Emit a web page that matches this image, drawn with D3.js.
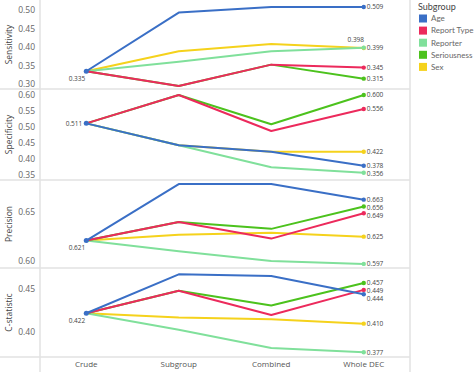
<!DOCTYPE html>
<html>
<head>
<meta charset="utf-8">
<script src="https://cdn.jsdelivr.net/npm/d3@7"></script>
<style>
  body { margin: 0; background: #fff; }
  svg { display: block; font-family: "Open Sans", sans-serif; }
  .sep { stroke: #e2e2e2; stroke-width: 1.5; }
  .tick-label { fill: #666; font-size: 8.5px; }
  .axis-title { fill: #444; font-size: 8.5px; }
  .val { fill: #444; font-size: 6.5px; }
  .stage { fill: #555; font-size: 8px; }
  .legend text { font-family: Lato, sans-serif; }
</style>
</head>
<body>
<div id="chart"></div>
<script>
const stages = ["Crude", "Subgroup", "Combined", "Whole DEC"];
const subgroups = ["Age", "Report Type", "Reporter", "Seriousness", "Sex"];
const colors = ["#3a6fc6", "#ec2a5c", "#80e09b", "#4cc21d", "#f5d21c"];

// values per subgroup, in the order of `subgroups`
const sensitivity = [
  [0.335, 0.494, 0.509, 0.509],
  [0.335, 0.295, 0.353, 0.345],
  [0.335, 0.361, 0.389, 0.399],
  [0.335, 0.295, 0.353, 0.315],
  [0.335, 0.389, 0.409, 0.398]
];
const specificity = [
  [0.511, 0.442, 0.422, 0.378],
  [0.511, 0.600, 0.487, 0.556],
  [0.511, 0.442, 0.373, 0.356],
  [0.511, 0.600, 0.508, 0.600],
  [0.511, 0.442, 0.422, 0.422]
];
const precision = [
  [0.621, 0.679, 0.679, 0.663],
  [0.621, 0.640, 0.623, 0.649],
  [0.621, 0.610, 0.600, 0.597],
  [0.621, 0.640, 0.633, 0.656],
  [0.621, 0.627, 0.629, 0.625]
];
const cstatistic = [
  [0.422, 0.467, 0.465, 0.444],
  [0.422, 0.448, 0.420, 0.449],
  [0.422, 0.403, 0.382, 0.377],
  [0.422, 0.448, 0.431, 0.457],
  [0.422, 0.417, 0.415, 0.410]
];

const metrics = ["Sensitivity", "Specificity", "Precision", "C-statistic"];
const metricValues = [sensitivity, specificity, precision, cstatistic];
const metricDomains = [[0.287, 0.528], [0.333, 0.619], [0.5928, 0.6832], [0.3715, 0.4743]];
const metricTicks = [
  [0.30, 0.35, 0.40, 0.45, 0.50],
  [0.35, 0.40, 0.45, 0.50, 0.55, 0.60],
  [0.60, 0.65],
  [0.40, 0.45]
];

const width = 474, height = 372;
const plotLeft = 40, plotRight = 410;
const panelEdges = [0, 89, 180, 268, 357];
// draw order: Age on top
const drawOrder = [4, 2, 3, 1, 0];

const svg = d3.select("#chart").append("svg")
  .attr("width", width)
  .attr("height", height);

const x = d3.scalePoint()
  .domain(stages)
  .range([plotLeft, plotRight])
  .padding(0.5);

// frame lines
svg.append("line").attr("class", "sep")
  .attr("x1", plotLeft).attr("x2", plotLeft).attr("y1", 0).attr("y2", height);
svg.append("line").attr("class", "sep")
  .attr("x1", plotRight).attr("x2", plotRight).attr("y1", 0).attr("y2", height);
panelEdges.slice(1).forEach(yy => {
  svg.append("line").attr("class", "sep")
    .attr("x1", 0).attr("x2", plotRight).attr("y1", yy).attr("y2", yy);
});

metrics.forEach((name, i) => {
  const top = panelEdges[i], bottom = panelEdges[i + 1];
  const y = d3.scaleLinear().domain(metricDomains[i]).range([bottom, top]);
  const g = svg.append("g");

  // y ticks
  g.selectAll(".tick-label")
    .data(metricTicks[i])
    .enter().append("text")
    .attr("class", "tick-label")
    .attr("x", plotLeft - 5)
    .attr("y", d => y(d))
    .attr("dy", "0.35em")
    .attr("text-anchor", "end")
    .text(d => d3.format(".2f")(d));

  // axis title
  g.append("text")
    .attr("class", "axis-title")
    .attr("transform", `translate(12,${(top + bottom) / 2}) rotate(-90)`)
    .attr("text-anchor", "middle")
    .text(name);

  const line = d3.line()
    .x((d, j) => x(stages[j]))
    .y(d => y(d));

  const vals = metricValues[i];

  drawOrder.forEach(k => {
    g.append("path")
      .attr("d", line(vals[k]))
      .attr("fill", "none")
      .attr("stroke", colors[k])
      .attr("stroke-width", 2)
      .attr("stroke-linejoin", "round");
  });

  // end points
  drawOrder.forEach(k => {
    g.append("circle")
      .attr("cx", x(stages[3]))
      .attr("cy", y(vals[k][3]))
      .attr("r", 2.2)
      .attr("fill", colors[k]);
  });
  g.append("circle")
    .attr("cx", x(stages[0]))
    .attr("cy", y(vals[0][0]))
    .attr("r", 2.5)
    .attr("fill", colors[0]);

  // start label (below-left, except specificity which sits to the left)
  const startY = y(vals[0][0]);
  g.append("text")
    .attr("class", "val")
    .attr("x", x(stages[0]) - (i === 1 ? 4 : 1))
    .attr("y", i === 1 ? startY : startY + 7)
    .attr("dy", "0.35em")
    .attr("text-anchor", "end")
    .text(d3.format(".3f")(vals[0][0]));

  // end labels, nudged apart where they would collide
  const labels = subgroups.map((s, k) => ({ k, v: vals[k][3], ly: y(vals[k][3]) }))
    .filter(d => !(i === 0 && d.k === 4));
  labels.sort((a, b) => a.ly - b.ly);
  for (let j = 1; j < labels.length; j++) {
    if (labels[j].ly - labels[j - 1].ly < 8) labels[j].ly = labels[j - 1].ly + 8;
  }
  labels.forEach(d => {
    g.append("text")
      .attr("class", "val")
      .attr("x", x(stages[3]) + 3)
      .attr("y", d.ly)
      .attr("dy", "0.35em")
      .text(d3.format(".3f")(d.v));
  });
  if (i === 0) {
    const v = vals[4][3];
    g.append("text")
      .attr("class", "val")
      .attr("x", x(stages[3]) - 8)
      .attr("y", y(v) - 8)
      .attr("dy", "0.35em")
      .attr("text-anchor", "middle")
      .text(d3.format(".3f")(v));
  }
});

// stage labels
svg.selectAll(".stage")
  .data(stages)
  .enter().append("text")
  .attr("class", "stage")
  .attr("x", d => x(d))
  .attr("y", 367)
  .attr("text-anchor", "middle")
  .text(d => d);

// legend
const legend = svg.append("g").attr("class", "legend").attr("transform", "translate(418,0)");
legend.append("text")
  .attr("x", 0).attr("y", 10)
  .attr("fill", "#444")
  .style("font-size", "9px")
  .text("Subgroup");
const item = legend.selectAll(".item")
  .data(subgroups)
  .enter().append("g")
  .attr("transform", (d, j) => `translate(0,${18.5 + j * 12.1})`);
item.append("rect")
  .attr("x", 1).attr("y", -4).attr("width", 8).attr("height", 8)
  .attr("fill", (d, j) => colors[j]);
item.append("text")
  .attr("x", 13).attr("y", 0).attr("dy", "0.35em")
  .attr("fill", "#666")
  .style("font-size", "8px")
  .text(d => d);
</script>
</body>
</html>
